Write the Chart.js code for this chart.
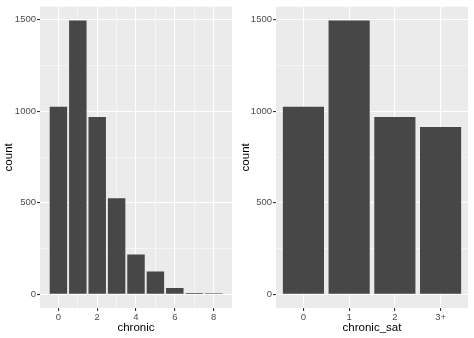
<!DOCTYPE html>
<html>
<head>
<meta charset="utf-8">
<script src="https://cdn.jsdelivr.net/npm/chart.js@4/dist/chart.umd.min.js"></script>
<style>
  html, body { margin: 0; padding: 0; background: #fff; }
  #wrap { position: relative; width: 474px; height: 338px; }
  .panel { position: absolute; top: 0; width: 237px; height: 338px; }
  #left { left: 0; }
  #right { left: 237px; }
</style>
</head>
<body>
<div id="wrap">
  <div class="panel" id="left"><canvas id="chronicChart"></canvas></div>
  <div class="panel" id="right"><canvas id="chronicSatChart"></canvas></div>
</div>
<script>
// counts
const chronicLevels = [0, 1, 2, 3, 4, 5, 6, 7, 8];
const chronicCounts = [1025, 1497, 969, 525, 218, 125, 34, 7, 5];

const satLabels = ["0", "1", "2", "3+"];
const satCounts = [1025, 1497, 969, 915];

const yTicks = [0, 250, 500, 750, 1000, 1250, 1500];

Chart.defaults.font.family = "'Liberation Sans', Arial, sans-serif";
Chart.defaults.animation = false;

// grey ggplot panel behind the grid
const panelBg = {
  id: "panelBg",
  beforeDraw(chart) {
    const a = chart.chartArea;
    const ctx = chart.ctx;
    ctx.save();
    ctx.fillStyle = "#EBEBEB";
    ctx.fillRect(a.left, a.top, a.right - a.left, a.bottom - a.top);
    ctx.restore();
  },
};

function yAxis(width) {
  return {
    type: "linear",
    min: -75,
    max: 1572,
    afterBuildTicks: (axis) => { axis.ticks = yTicks.map((v) => ({ value: v })); },
    afterFit: (axis) => { axis.width = width; },
    border: { display: false },
    grid: {
      color: "#FFFFFF",
      lineWidth: (c) => (c.tick && c.tick.value % 500 === 0 ? 1.1 : 0.5),
      tickColor: (c) => (c.tick && c.tick.value % 500 === 0 ? "#333333" : "rgba(0,0,0,0)"),
      tickLength: 3,
    },
    ticks: {
      color: "#4D4D4D",
      font: { size: 9.5 },
      padding: 1,
      callback: (v) => (v % 500 === 0 ? String(v) : ""),
    },
    title: {
      display: true,
      text: "count",
      color: "#000000",
      font: { size: 11.5 },
      padding: { top: 2, bottom: 2 },
    },
  };
}

function xTitle(text) {
  return {
    display: true,
    text: text,
    color: "#000000",
    font: { size: 11.5 },
    padding: { top: 1, bottom: 3 },
  };
}

function makeChart(id, points, xMin, xMax, tickValues, majorTest, labelFor, title, yWidth, padRight) {
  const ctx = document.getElementById(id).getContext("2d");
  return new Chart(ctx, {
    type: "bar",
    data: {
      datasets: [{
        data: points,
        backgroundColor: "#474747",
        borderWidth: 0,
        barPercentage: 0.9,
        categoryPercentage: 1.0,
      }],
    },
    options: {
      responsive: false,
      maintainAspectRatio: false,
      layout: { padding: { top: 6, right: padRight, left: 0, bottom: 0 } },
      plugins: { legend: { display: false }, tooltip: { enabled: false } },
      scales: {
        x: {
          type: "linear",
          min: xMin,
          max: xMax,
          offset: false,
          afterBuildTicks: (axis) => { axis.ticks = tickValues.map((v) => ({ value: v })); },
          afterFit: (axis) => { axis.height = 30; },
          border: { display: false },
          grid: {
            offset: false,
            color: "#FFFFFF",
            lineWidth: (c) => (c.tick && majorTest(c.tick.value) ? 1.1 : 0.5),
            tickColor: (c) => (c.tick && majorTest(c.tick.value) ? "#333333" : "rgba(0,0,0,0)"),
            tickLength: 3,
          },
          ticks: {
            color: "#4D4D4D",
            font: { size: 9.5 },
            padding: 1,
            maxRotation: 0,
            autoSkip: false,
            callback: (v) => (majorTest(v) ? labelFor(v) : ""),
          },
          title: xTitle(title),
        },
        y: yAxis(yWidth),
      },
    },
    plugins: [panelBg],
  });
}

document.getElementById("chronicChart").width = 237;
document.getElementById("chronicChart").height = 338;
document.getElementById("chronicSatChart").width = 237;
document.getElementById("chronicSatChart").height = 338;

makeChart(
  "chronicChart",
  chronicLevels.map((x, i) => ({ x: x, y: chronicCounts[i] })),
  -0.95, 8.95,
  chronicLevels,
  (v) => v % 2 === 0,
  (v) => String(v),
  "chronic",
  40, 5
);

makeChart(
  "chronicSatChart",
  satLabels.map((lab, i) => ({ x: i, y: satCounts[i] })),
  -0.6, 3.6,
  [0, 1, 2, 3],
  () => true,
  (v) => satLabels[v],
  "chronic_sat",
  39, 6
);
</script>
</body>
</html>
